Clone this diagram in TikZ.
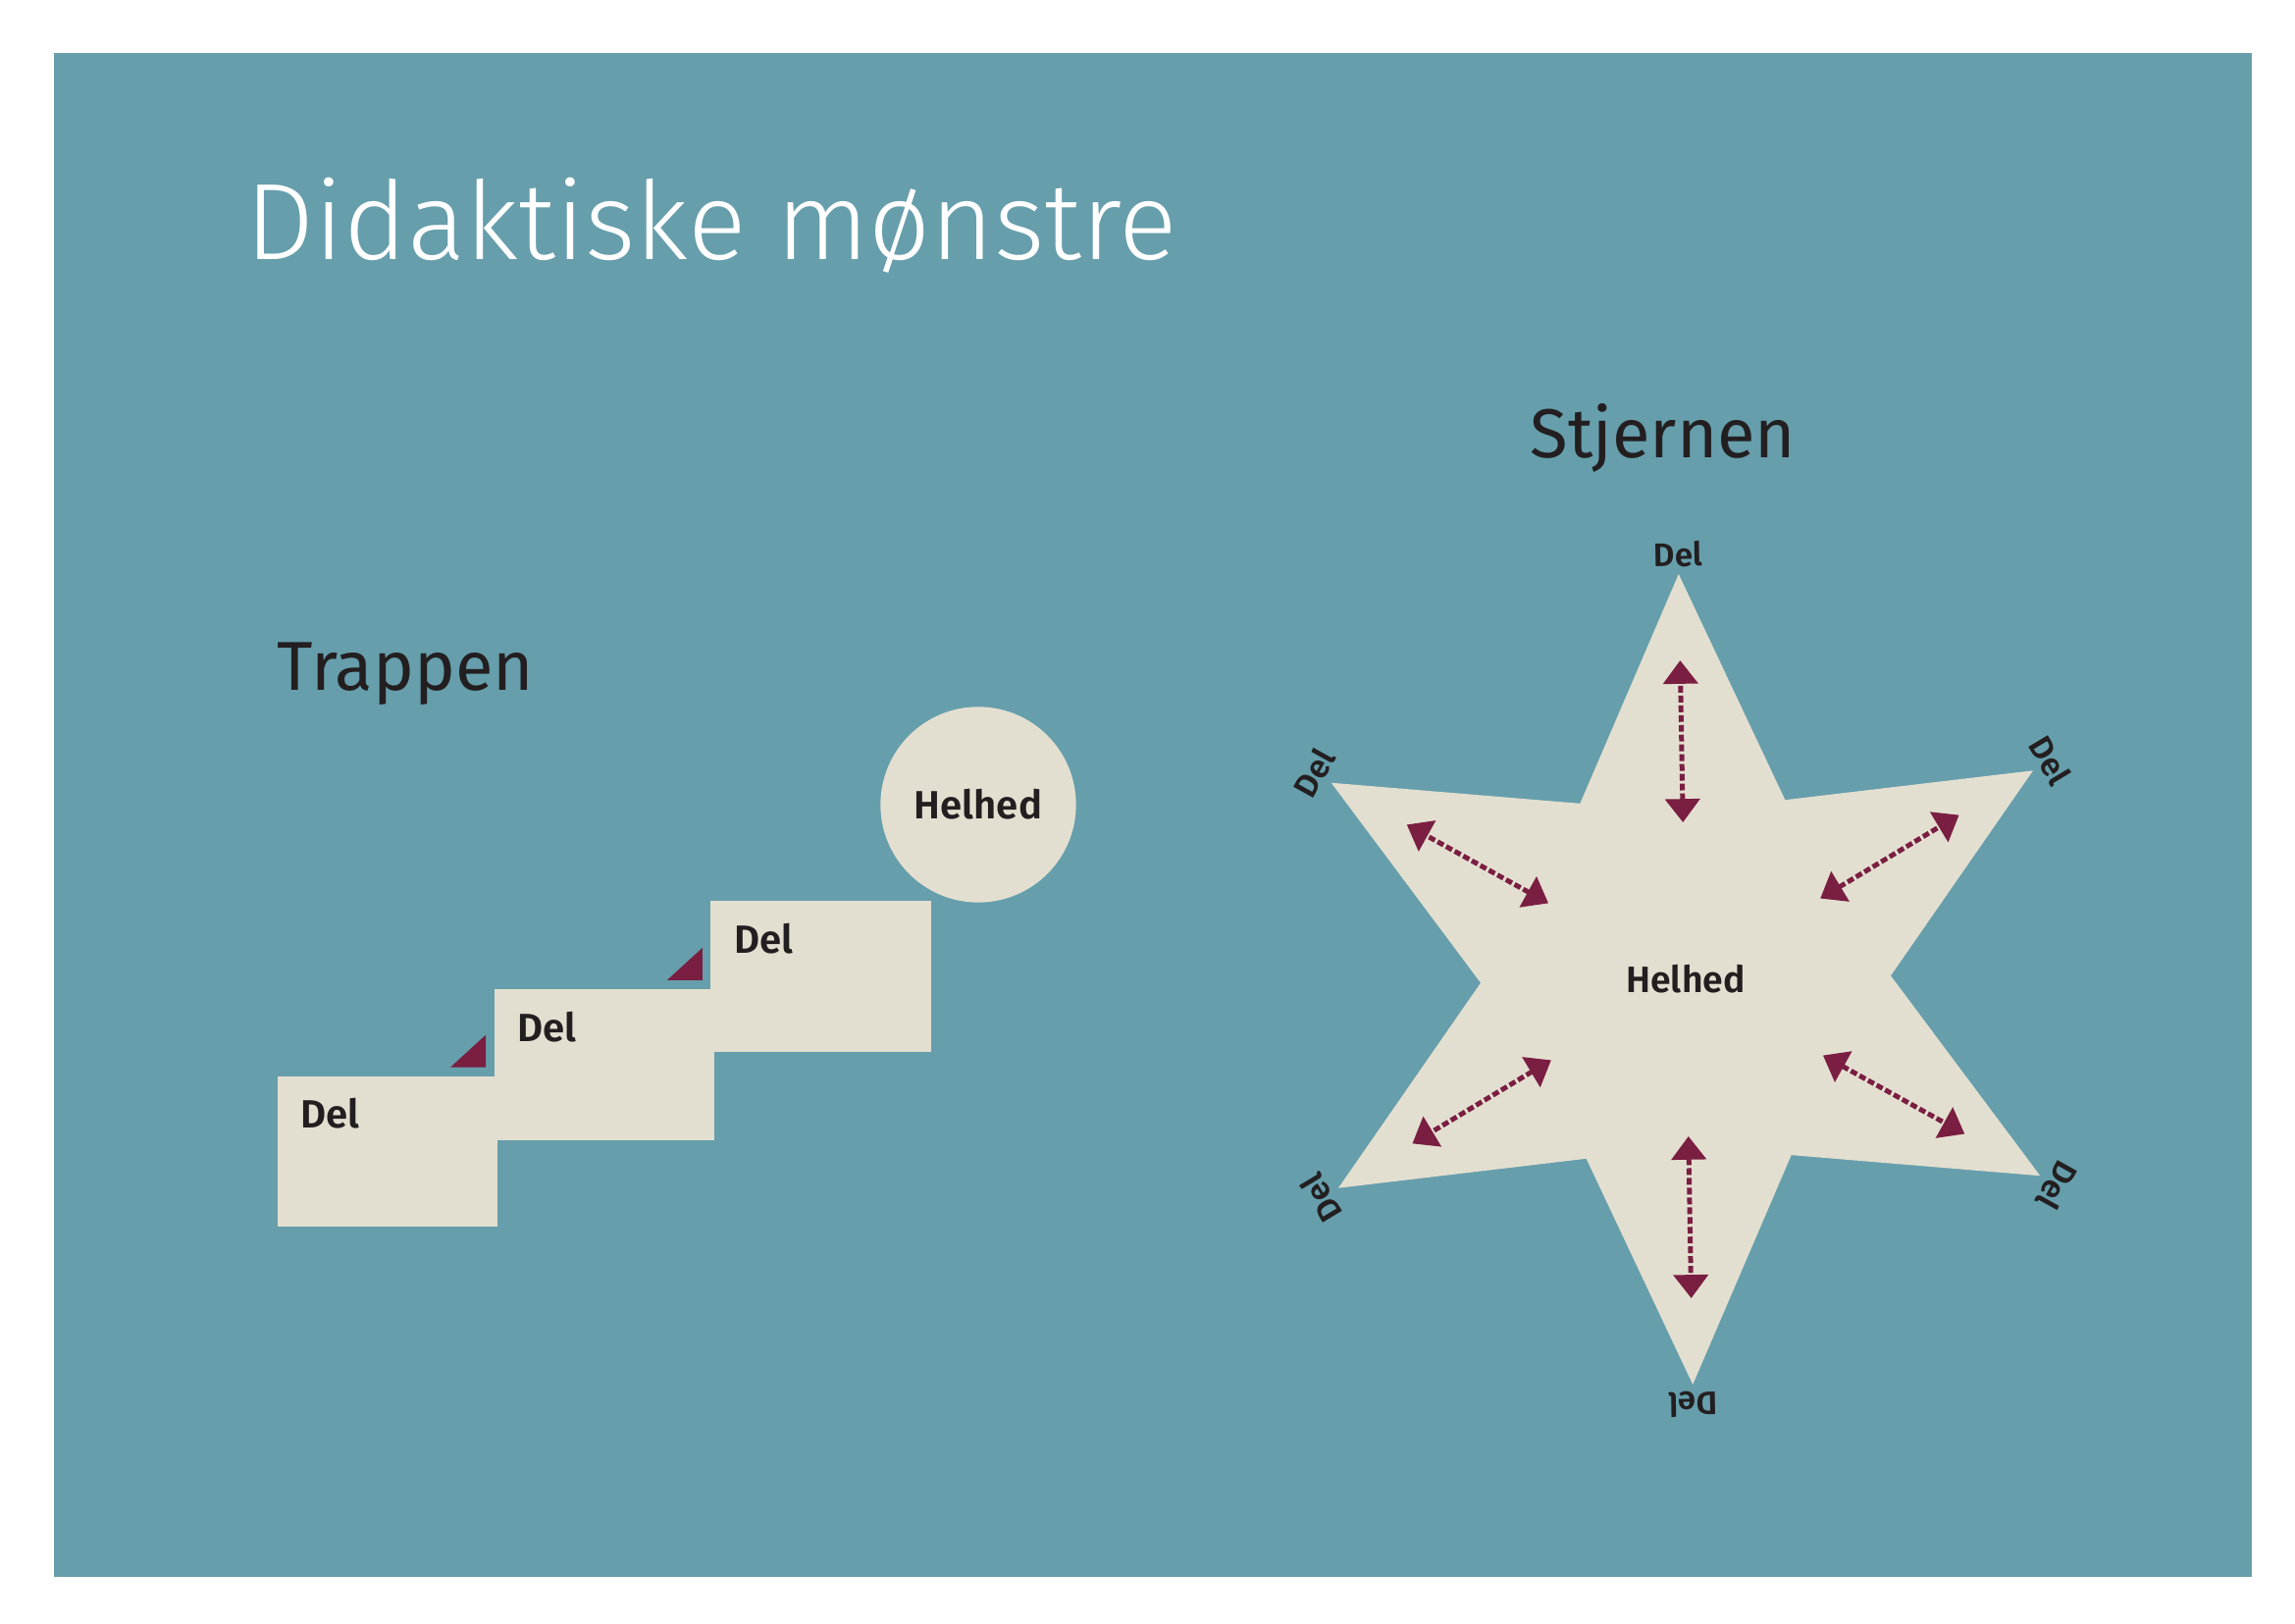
\documentclass[tikz,border=0pt]{standalone}
\usepackage{fontspec}
\setmainfont{Fira Sans}
\newfontfamily\titlefont{Fira Sans Light}
\newfontfamily\labelfont{Fira Sans SemiBold}
\usetikzlibrary{arrows.meta,calc,positioning}

\definecolor{panel}{RGB}{102,158,172}
\definecolor{card}{RGB}{227,223,208}
\definecolor{wine}{RGB}{122,30,66}
\definecolor{ink}{RGB}{35,31,32}

\begin{document}
\begin{tikzpicture}[x=0.0127cm, y=0.0127cm]
        \tikzstyle{heading}=[inner sep=0pt, anchor=base west, text=ink, font=\fontsize{25.5}{30}\selectfont]
        \tikzstyle{stair}=[fill=card, anchor=south west, inner xsep=8.6pt, inner ysep=0pt, text width=63.8pt, text height=19.1pt, text depth=36.3pt, align=left, text=ink, font=\labelfont\fontsize{14.5}{16}\selectfont]
        \tikzstyle{whole}=[fill=card, circle, inner sep=0pt, minimum size=72pt, text=ink, font=\labelfont\fontsize{14.5}{16}\selectfont]
        \tikzstyle{point}=[inner sep=0pt, anchor=base, text=ink, font=\labelfont\fontsize{12}{13}\selectfont]
        \tikzstyle{link}=[wine, line width=1.8pt, dash pattern=on 2.5pt off 1.1pt, {Triangle[length=8.6pt,width=12.6pt]}-{Triangle[length=8.6pt,width=12.6pt]}]

        \useasboundingbox (0,0) rectangle (2339,1654);
        \fill[panel] (55,47) rectangle (2295,1600);

        \node[inner sep=0pt, anchor=base west, text=white, font=\titlefont\fontsize{40}{48}\selectfont] (title) at (250,1389) {Didaktiske mønstre};

        % Trappen
        \node[heading] (trappen) at (282,950) {Trappen};
        \node[stair] (stair1) at (282,403) {Del};
        \node[stair, above right=-23.8pt and -1.5pt of stair1] (stair2) {Del};
        \node[stair, above right=-23.2pt and -1.7pt of stair2] (stair3) {Del};
        \foreach \lo/\hi in {stair1/stair2, stair2/stair3}
            \fill[wine] ($(\hi.west |- \lo.north)+(-8,9)$) -- ++(-36,0) -- ++(36,33) -- cycle;
        \node[whole] (helhed) at (997,834) {Helhed};

        % Stjernen
        \node[heading] (stjernen) at (1559,1187) {Stjernen};
        \coordinate (mid) at (1718,656);
        \fill[card, shift={(mid)}] (91:413) \foreach \a in {91,151,...,391} {-- (\a:413) -- ({\a+30}:209)} -- cycle;
        \node[text=ink, font=\labelfont\fontsize{13.5}{15}\selectfont] (kern) at (mid) {Helhed};
        \foreach \a [count=\i] in {91,151,211,271,331,31} {
            \coordinate (near\i) at ($(mid)+(\a:160)$);
            \coordinate (far\i) at ($(mid)+(\a:325)$);
            \draw[link] (near\i) -- (far\i);
            \node[point, rotate=\a-90] (point\i) at ($(mid)+(\a:421)$) {Del};
        }
\end{tikzpicture}
\end{document}
